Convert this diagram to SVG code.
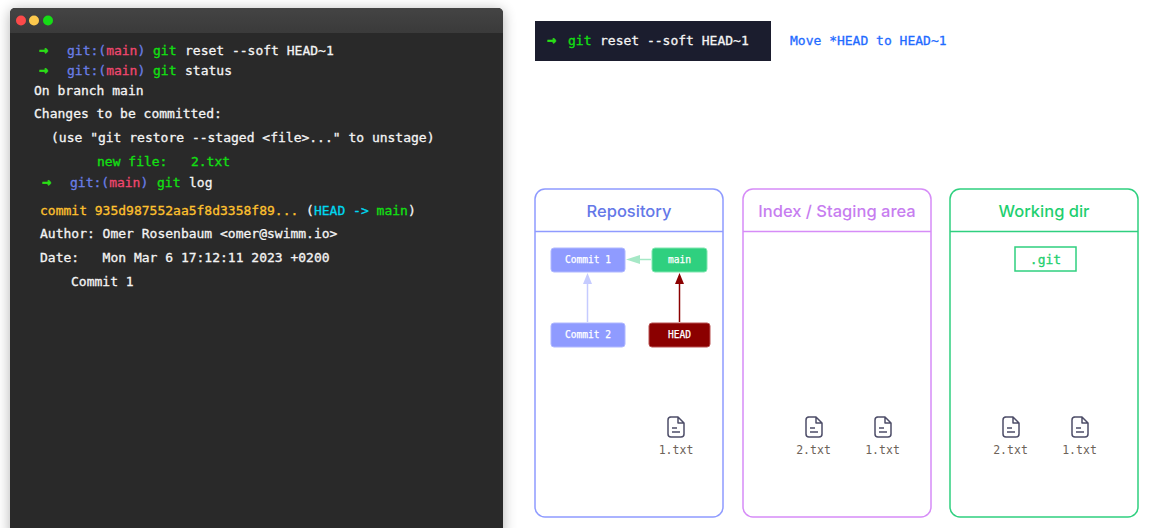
<svg xmlns="http://www.w3.org/2000/svg" width="1155" height="528" viewBox="0 0 1155 528">
<defs>
<filter id="sh" x="-10%" y="-10%" width="120%" height="120%"><feGaussianBlur stdDeviation="7"/></filter>
<linearGradient id="bar" x1="0" y1="0" x2="0" y2="1"><stop offset="0" stop-color="#444"/><stop offset="1" stop-color="#3a3a3a"/></linearGradient>
<g id="file"><path d="M-6 -10H2L8 -4V7Q8 10 5 10H-5Q-8 10 -8 7V-7Q-8 -10 -5 -10H-6Z M2 -10V-4H8" fill="none" stroke="#4d4d68" stroke-width="1.5" stroke-linejoin="round"/><path d="M-4 1H1M-4 5H4" stroke="#4d4d68" stroke-width="1.3" fill="none"/></g>
</defs>
<style>
text{font-family:"DejaVu Sans Mono","Liberation Mono",monospace;font-size:13px;white-space:pre;stroke-width:.3px}
.w{fill:#f4f4f4;stroke:#f4f4f4}.g{fill:#12e012;stroke:#12e012}.b{fill:#6a7fe8;stroke:#6a7fe8}.r{fill:#f0476f;stroke:#f0476f}.y{fill:#ffc12e;stroke:#ffc12e}.c{fill:#00d8f0;stroke:#00d8f0}
.a{font-size:15px;font-weight:700;fill:#2adf16;stroke:#2adf16;stroke-width:.5px}
.box{fill:#fff;stroke-width:1.5}
.t{font-family:Inter,"Liberation Sans",sans-serif;font-size:16.5px;font-weight:500;text-anchor:middle;stroke:none}
.n{font-size:9.6px;fill:#fff;stroke:#fff;stroke-width:.25px;text-anchor:middle}
.f{font-size:11.5px;fill:#6d6258;stroke:none;text-anchor:middle}
</style>
<rect width="1155" height="528" fill="#fff"/>
<g id="terminal">
<rect x="10" y="10" width="493" height="530" rx="5" fill="#000" opacity=".3" filter="url(#sh)"/>
<rect x="10" y="8" width="493" height="530" rx="5" fill="#292929"/>
<path d="M10 33V13a5 5 0 0 1 5-5H498a5 5 0 0 1 5 5V33Z" fill="url(#bar)"/>
<circle cx="21" cy="20.500" r="5" fill="#fc4a4a"/><circle cx="34" cy="20.500" r="5" fill="#fdc94d"/><circle cx="48" cy="20.500" r="5" fill="#16dc16"/>
<text y="55"><tspan x="39" class="a">→</tspan><tspan x="67" class="b">git:(</tspan><tspan class="r">main</tspan><tspan class="b">)</tspan><tspan x="153" class="g">git</tspan><tspan x="185" class="w">reset --soft HEAD~1</tspan></text>
<text y="75"><tspan x="39" class="a">→</tspan><tspan x="67" class="b">git:(</tspan><tspan class="r">main</tspan><tspan class="b">)</tspan><tspan x="153" class="g">git</tspan><tspan x="185" class="w">status</tspan></text>
<text x="34" y="94.500" class="w">On branch main</text>
<text x="34" y="118" class="w">Changes to be committed:</text>
<text x="51" y="142" class="w">(use "git restore --staged &lt;file&gt;..." to unstage)</text>
<text x="97" y="166" class="g">new file:   2.txt</text>
<text y="187"><tspan x="42" class="a">→</tspan><tspan x="70" class="b">git:(</tspan><tspan class="r">main</tspan><tspan class="b">)</tspan><tspan x="157" class="g">git</tspan><tspan x="189" class="w">log</tspan></text>
<text x="40" y="215"><tspan class="y">commit 935d987552aa5f8d3358f89...</tspan><tspan class="w"> (</tspan><tspan class="c">HEAD -&gt; </tspan><tspan class="g">main</tspan><tspan class="w">)</tspan></text>
<text x="40" y="238" class="w">Author: Omer Rosenbaum &lt;omer@swimm.io&gt;</text>
<text x="40" y="262" class="w">Date:   Mon Mar 6 17:12:11 2023 +0200</text>
<text x="71" y="286" class="w">Commit 1</text>
</g>
<g id="command">
<rect x="535" y="21" width="236" height="40" fill="#1b1d2e"/>
<text y="45"><tspan x="547" class="a">→</tspan><tspan x="568" class="g">git</tspan><tspan x="600" class="w">reset --soft HEAD~1</tspan></text>
<text x="790" y="45" fill="#1f6bff" stroke="#1f6bff">Move *HEAD to HEAD~1</text>
</g>
<g id="repository">
<rect class="box" x="535" y="189" width="188" height="328" rx="10" stroke="#8f9bff"/>
<path d="M535 231.500H723" stroke="#8f9bff" stroke-width="1.500"/>
<text class="t" x="629" y="216.500" fill="#6478e8">Repository</text>
</g>
<g id="index">
<rect class="box" x="743" y="189" width="188" height="328" rx="10" stroke="#d68cf7"/>
<path d="M743 231.500H931" stroke="#d68cf7" stroke-width="1.500"/>
<text class="t" x="837" y="216.500" fill="#c77df0">Index / Staging area</text>
</g>
<g id="working">
<rect class="box" x="950" y="189" width="188" height="328" rx="10" stroke="#2fd07f"/>
<path d="M950 231.500H1138" stroke="#2fd07f" stroke-width="1.500"/>
<text class="t" x="1044" y="216.500" fill="#1fcf6f">Working dir</text>
</g>
<g id="connectors">
<path d="M651 259.500H638" stroke="#a6e8c6" stroke-width="1.500" fill="none"/>
<path d="M626 259.500L640 255V264Z" fill="#a6e8c6"/>
<path d="M587.500 322V283" stroke="#c5cbff" stroke-width="1.500" fill="none"/>
<path d="M587.500 273L583 284H592Z" fill="#c5cbff"/>
<path d="M679.500 322V283" stroke="#8b0000" stroke-width="1.500" fill="none"/>
<path d="M679.500 273L675 284H684Z" fill="#8b0000"/>
</g>
<g id="commit1"><rect x="551" y="248" width="74" height="24" rx="3" fill="#8f9bff" stroke="#b0b8ff"/><text class="n" x="588" y="263">Commit 1</text></g>
<g id="commit2"><rect x="551" y="323" width="74" height="24" rx="3" fill="#8f9bff" stroke="#b0b8ff"/><text class="n" x="588" y="338">Commit 2</text></g>
<g id="main"><rect x="652" y="248" width="55" height="24" rx="3" fill="#2fd07f" stroke="#80e6b0"/><text class="n" x="679.500" y="263">main</text></g>
<g id="head"><rect x="649" y="323" width="61" height="24" rx="3" fill="#8b0000" stroke="#b85050"/><text class="n" x="679.500" y="338">HEAD</text></g>
<g id="gitdir"><rect x="1015" y="247" width="61" height="24" fill="#fff" stroke="#2fd07f" stroke-width="1.500"/><text x="1045.500" y="264" text-anchor="middle" fill="#1fcf6f" stroke="#1fcf6f">.git</text></g>
<g id="file-repo-1"><use href="#file" x="676" y="427"/><text class="f" x="676" y="454">1.txt</text></g>
<g id="file-index-2"><use href="#file" x="814" y="427"/><text class="f" x="813.500" y="454">2.txt</text></g>
<g id="file-index-1"><use href="#file" x="883" y="427"/><text class="f" x="882.500" y="454">1.txt</text></g>
<g id="file-work-2"><use href="#file" x="1011" y="427"/><text class="f" x="1010.500" y="454">2.txt</text></g>
<g id="file-work-1"><use href="#file" x="1080" y="427"/><text class="f" x="1079.500" y="454">1.txt</text></g>
</svg>
